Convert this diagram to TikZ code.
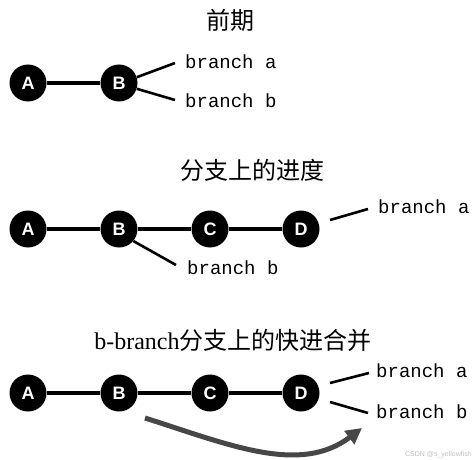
\documentclass[tikz,border=0pt]{standalone}
\usepackage{fontspec}
\setmainfont{Liberation Serif}
\setsansfont{Liberation Sans}
\setmonofont{Liberation Mono}
\newfontfamily\cjk{Noto Sans CJK SC}
\usetikzlibrary{arrows.meta}
\tikzset{
  commit/.style={circle, fill=black, minimum size=37pt, inner sep=0pt, text=white, font=\sffamily\bfseries\fontsize{18}{18}\selectfont},
  branchname/.style={anchor=west, inner sep=0pt, font=\ttfamily\fontsize{19}{19}\selectfont},
  title/.style={font=\fontsize{24}{24}\selectfont},
  edge/.style={line width=4pt},
  pointer/.style={line width=2.6pt},
}
\begin{document}
\begin{tikzpicture}[x=1pt,y=-1pt]
\useasboundingbox (0,0) rectangle (474,460);
% row 1
\node[title] (t1) at (230,20){\cjk 前期};
\node[commit] (r1a) at (28,83){A};
\node[commit] (r1b) at (119,83){B};
\draw[edge](r1a) -- (r1b);
\node[branchname] (r1na) at (185,62){branch a};
\node[branchname] (r1nb) at (185,101){branch b};
\coordinate (r1pa) at (175,63);
\coordinate (r1pb) at (175,100);
\draw[pointer](r1b.18) -- (r1pa);
\draw[pointer](r1b.-18) -- (r1pb);
% row 2
\node[title] (t2) at (252,170){\cjk 分支上的进度};
\node[commit] (r2a) at (28,229){A};
\node[commit] (r2b) at (119,229){B};
\node[commit] (r2c) at (210,229){C};
\node[commit] (r2d) at (301,229){D};
\draw[edge](r2a) -- (r2b);
\draw[edge](r2b) -- (r2c);
\draw[edge](r2c) -- (r2d);
\node[branchname] (r2na) at (378,207){branch a};
\node[branchname] (r2nb) at (187,268){branch b};
\coordinate (r2pa) at (368,209);
\coordinate (r2pb) at (176,265);
\draw[pointer](330,220) -- (r2pa);
\draw[pointer](r2b.-40) -- (r2pb);
% row 3
\node[title] (t3) at (233,340){b-branch\cjk 分支上的快进合并};
\node[commit] (r3a) at (28,393){A};
\node[commit] (r3b) at (119,393){B};
\node[commit] (r3c) at (210,393){C};
\node[commit] (r3d) at (301,393){D};
\draw[edge](r3a) -- (r3b);
\draw[edge](r3b) -- (r3c);
\draw[edge](r3c) -- (r3d);
\node[branchname] (r3na) at (376,371){branch a};
\node[branchname] (r3nb) at (376,412){branch b};
\coordinate (r3pa) at (369,373);
\coordinate (r3pb) at (368,413);
\draw[pointer](330,383) -- (r3pa);
\draw[pointer](330,402) -- (r3pb);
\coordinate (ffs) at (145,418);
\coordinate (ffe) at (362,428);
\draw[line width=5pt, draw=black!72, -{Triangle[length=16pt,width=16pt]}](ffs) .. controls (230,445) and (300,475) .. (ffe);
\node[anchor=south east, inner sep=2pt, text=black!25, font=\sffamily\fontsize{7}{7}\selectfont] (mark) at (474,460){CSDN @s\_yellowfish};
\end{tikzpicture}
\end{document}
